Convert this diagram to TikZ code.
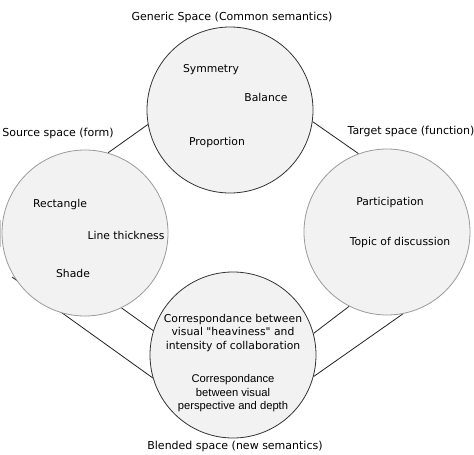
\documentclass[tikz,border=0pt]{standalone}
\usepackage{fontspec}
\setmainfont{DejaVu Sans}[Ligatures=TeXOff]
\newfontfamily\arialfont{Liberation Sans}
\usetikzlibrary{backgrounds}
\definecolor{cfill}{HTML}{F2F2F2}
\definecolor{cdark}{HTML}{333333}
\definecolor{cgray}{HTML}{9A9A9A}
\definecolor{cline}{HTML}{222222}
\begin{document}
\begin{tikzpicture}[x=1pt,y=-1pt,
  space/.style={circle, minimum size=166pt, inner sep=0pt, fill=cfill, line width=0.8pt},
  darkspace/.style={space, draw=cdark},
  lightspace/.style={space, draw=cgray},
  ttl/.style={font=\fontsize{11}{13}\selectfont, inner sep=0pt, text=black},
  lbl/.style={font=\fontsize{10.8}{13}\selectfont, inner sep=0pt, text=black},
  small/.style={font=\arialfont\fontsize{11.2}{13.5}\selectfont, inner sep=0pt, align=center},
  mid/.style={font=\fontsize{10.8}{13.5}\selectfont, inner sep=0pt, align=center},
  conn/.style={draw=cline, line width=0.8pt}]
\useasboundingbox (0,0) rectangle (474,455);

\node[darkspace]  (G) at (230,110) {};
\node[lightspace] (S) at (85,233) {};
\node[lightspace] (T) at (387,232) {};
\node[darkspace]  (B) at (233,355) {};
\coordinate (Sfar) at (12,277);

\begin{scope}[on background layer]
\fill[white] (0,0) rectangle (474,455);
\fill[black!22] (0,220) rectangle (1.4,247);
\draw[conn] (S.74.6) -- (G.190.4);
\draw[conn] (G.-8.1) -- (T.110);
\draw[conn] (S.-64.7) -- (B.163);
\draw[conn] (Sfar) -- (B.196);
\draw[conn] (B.15.7) -- (T.243.7);
\draw[conn] (B.-15) -- (T.-79.8);
\end{scope}

\node[ttl] (gt) at (232,17) {Generic Space (Common semantics)};
\node[ttl] (st) at (58,133) {Source space (form)};
\node[ttl] (tt) at (411,131) {Target space (function)};
\node[ttl] (bt) at (235,446) {Blended space (new semantics)};

\node[lbl] (g1) at (211,70) {Symmetry};
\node[lbl] (g2) at (266,97) {Balance};
\node[lbl] (g3) at (217,143) {Proportion};

\node[lbl] (s1) at (60,205) {Rectangle};
\node[lbl] (s2) at (126,235) {Line thickness};
\node[lbl] (s3) at (73,273) {Shade};

\node[lbl] (t1) at (390,203) {Participation};
\node[lbl] (t2) at (400,243) {Topic of discussion};

\node[mid] (b1) at (233,333) {Correspondance between\\visual "heaviness" and\\intensity of collaboration};
\node[small] (b2) at (233,393.5) {Correspondance\\between visual\\perspective and depth};
\end{tikzpicture}
\end{document}
